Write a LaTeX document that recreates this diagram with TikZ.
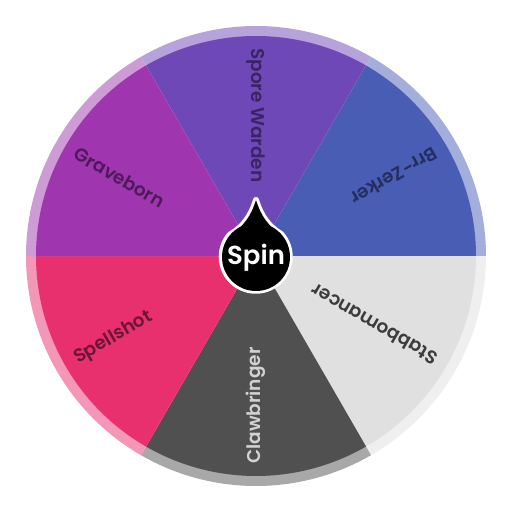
\documentclass[tikz,border=0pt]{standalone}
\usepackage{fontspec}
\setmainfont{Poppins}
\newfontfamily\labfont{Poppins SemiBold}
\newfontfamily\spinfont{Poppins SemiBold}
\definecolor{cSpore}{RGB}{111,72,184}
\definecolor{cBrr}{RGB}{74,93,181}
\definecolor{cStab}{RGB}{224,224,224}
\definecolor{cClaw}{RGB}{80,80,80}
\definecolor{cSpell}{RGB}{232,48,110}
\definecolor{cGrave}{RGB}{159,54,176}
\definecolor{tSpore}{RGB}{58,36,100}
\definecolor{tBrr}{RGB}{36,46,96}
\definecolor{tStab}{RGB}{60,60,60}
\definecolor{tClaw}{RGB}{210,210,210}
\definecolor{tSpell}{RGB}{110,20,55}
\definecolor{tGrave}{RGB}{80,26,90}
\tikzset{
  wlabel/.style={anchor=west,inner sep=0pt,font=\labfont\fontsize{18.5}{19}\selectfont},
}
\begin{document}
\begin{tikzpicture}[x=1pt,y=1pt]
\useasboundingbox (-256,-256) rectangle (256,256);
% sectors: start angle, colour, text colour, label
\foreach \a/\c/\t/\l in {60/cSpore/tSpore/{Spore Warden},0/cBrr/tBrr/{Brr-Zerker},-60/cStab/tStab/{Stabbomancer},-120/cClaw/tClaw/{Clawbringer},180/cSpell/tSpell/{Spellshot},120/cGrave/tGrave/{Graveborn}}{
  \fill[\c!50!white] (0,0) -- (\a:230) arc[start angle=\a,end angle=\a+60,radius=230] -- cycle;
  \fill[\c] (0,0) -- (\a:220) arc[start angle=\a,end angle=\a+60,radius=220] -- cycle;
  \pgfmathsetmacro{\mid}{\a+30}
  \pgfmathsetmacro{\rot}{\a+210}
  \node[wlabel,text=\t,rotate=\rot] (lab\a) at (\mid:208) {\l};
}
% spin button
\path[draw=white,line width=6pt,fill=black,line join=round]
  (-25,22) .. controls (-12,30) and (-5,40) .. (0,56)
  .. controls (5,40) and (12,30) .. (25,22)
  arc[start angle=42,end angle=-222,radius=34] -- cycle;
\fill[black] (0,-1) circle[radius=34];
\fill[black] (-25,22) .. controls (-12,30) and (-5,40) .. (0,56)
  .. controls (5,40) and (12,30) .. (25,22) -- cycle;
\node[text=white,font=\spinfont\fontsize{26}{26}\selectfont] (spin) at (0,-2) {Spin};
\end{tikzpicture}
\end{document}
